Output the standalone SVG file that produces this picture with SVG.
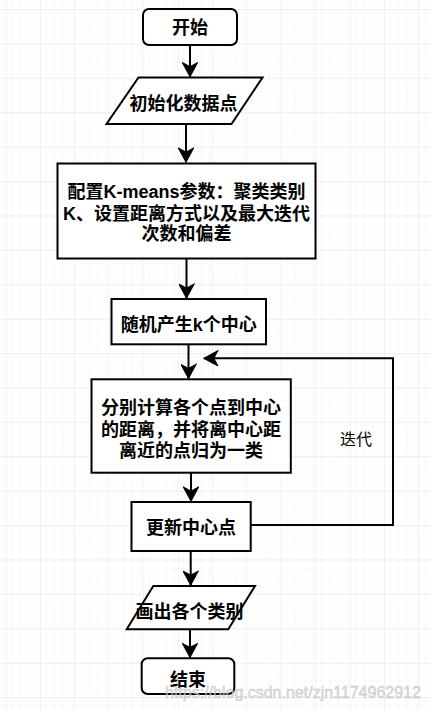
<svg xmlns="http://www.w3.org/2000/svg" width="431" height="710" viewBox="0 0 431 710">
<style>
.box{fill:#ffffff;stroke:#000000;stroke-width:2}
.edge{fill:none;stroke:#000000;stroke-width:2}
.t{font-family:"Liberation Sans","Noto Sans CJK SC",sans-serif;font-size:18px;font-weight:bold;fill:#000000;text-anchor:middle}
.lbl{font-family:"Liberation Sans","Noto Sans CJK SC",sans-serif;font-size:16px;fill:#000000;text-anchor:middle}
.wm{font-family:"Liberation Sans","Noto Sans CJK SC",sans-serif;font-size:16px;fill:#d0d0d0;stroke:#bdbdbd;stroke-width:0.4;opacity:0.8}
</style>
<defs>
<pattern id="minor" x="5.6" y="9" width="8.6" height="8.6" patternUnits="userSpaceOnUse">
<path d="M8.6,0 H0 V8.6" fill="none" stroke="#f2f2f2" stroke-width="1"/>
</pattern>
<pattern id="major" x="5.6" y="9" width="34.4" height="34.4" patternUnits="userSpaceOnUse">
<rect width="34.4" height="34.4" fill="url(#minor)"/>
<path d="M34.4,0 H0 V34.4" fill="none" stroke="#e4e4e4" stroke-width="1"/>
</pattern>
<marker id="arr" markerUnits="userSpaceOnUse" markerWidth="16" markerHeight="16" viewBox="-13 -7 14 14" refX="0" refY="0" orient="auto">
<path d="M-12,-6.5 L0,0 L-12,6.5 L-8.5,0 Z" fill="#000000" stroke="#000000" stroke-width="1"/>
</marker>
</defs>
<rect width="431" height="710" fill="#ffffff"/>
<rect width="431" height="710" fill="url(#major)"/>

<g id="edges">
<line class="edge" x1="190" y1="45" x2="190" y2="76.5" marker-end="url(#arr)"/>
<line class="edge" x1="186" y1="124" x2="186" y2="162" marker-end="url(#arr)"/>
<line class="edge" x1="186.5" y1="258.5" x2="186.5" y2="298" marker-end="url(#arr)"/>
<line class="edge" x1="188.5" y1="344.3" x2="188.5" y2="378.3" marker-end="url(#arr)"/>
<line class="edge" x1="191" y1="472.7" x2="191" y2="501" marker-end="url(#arr)"/>
<path class="edge" d="M250.7,525 H393 V358.3 H204" marker-end="url(#arr)"/>
<line class="edge" x1="190.7" y1="551" x2="190.7" y2="585" marker-end="url(#arr)"/>
<line class="edge" x1="190" y1="629.3" x2="190" y2="657.3" marker-end="url(#arr)"/>
<text class="lbl" x="356" y="445">迭代</text>
</g>

<g id="start">
<rect class="box" x="143" y="9" width="94" height="36" rx="6"/>
<text class="t" x="190" y="33.5">开始</text>
</g>
<g id="init">
<polygon class="box" points="138.5,77.5 262.5,77.5 231.5,124 106.5,124"/>
<text class="t" x="183.5" y="109.5">初始化数据点</text>
</g>
<g id="config">
<rect class="box" x="57.5" y="163.5" width="258" height="95"/>
<text class="t" x="186.5" y="198">配置K-means参数：聚类类别</text>
<text class="t" x="186.5" y="219.5">K、设置距离方式以及最大迭代</text>
<text class="t" x="186.5" y="240">次数和偏差</text>
</g>
<g id="random">
<rect class="box" x="111.5" y="299" width="154.5" height="45.3"/>
<text class="t" x="188.8" y="330.5">随机产生k个中心</text>
</g>
<g id="compute">
<rect class="box" x="91.5" y="379.3" width="199.3" height="93.4"/>
<text class="t" x="191" y="413.5">分别计算各个点到中心</text>
<text class="t" x="191" y="435.5">的距离，并将离中心距</text>
<text class="t" x="191" y="457">离近的点归为一类</text>
</g>
<g id="update">
<rect class="box" x="131.5" y="502" width="119.2" height="49"/>
<text class="t" x="191" y="534">更新中心点</text>
</g>
<g id="draw">
<polygon class="box" points="153.3,586 255,586 228.3,629.3 126.7,629.3"/>
<text class="t" x="189.5" y="618">画出各个类别</text>
</g>
<g id="end">
<rect class="box" x="141.7" y="658.3" width="92.6" height="35.7" rx="6"/>
<text class="t" x="188" y="685.5">结束</text>
</g>
<text class="wm" x="165" y="697.5">https://blog.csdn.net/zjn1174962912</text>
</svg>
